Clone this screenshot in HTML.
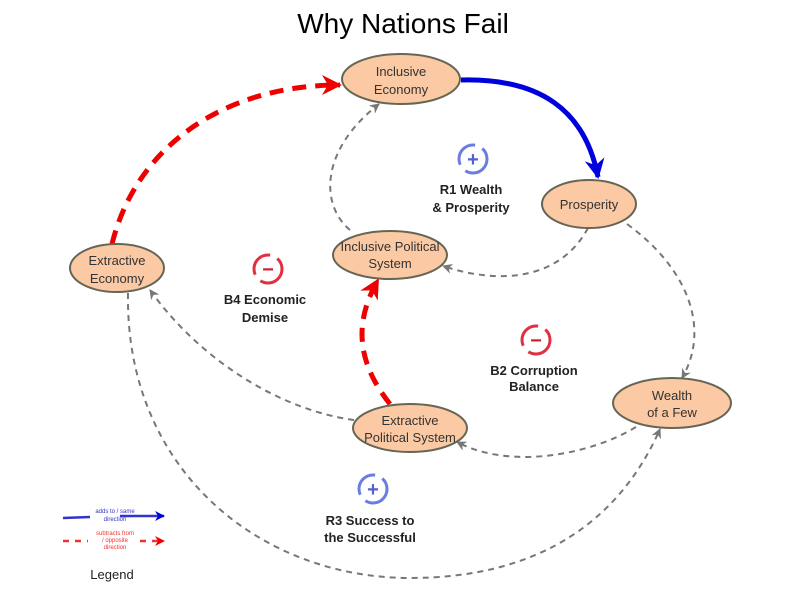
<!DOCTYPE html>
<html><head><meta charset="utf-8"><style>
html,body{margin:0;padding:0;background:#fff;width:800px;height:596px;overflow:hidden}
svg{display:block}
.n{font-family:"Liberation Sans",sans-serif;font-size:13px;fill:#333}
.l{font-family:"Liberation Sans",sans-serif;font-size:13px;font-weight:bold;fill:#222}
</style></head><body>
<svg width="800" height="596" viewBox="0 0 800 596" xmlns="http://www.w3.org/2000/svg">
<defs>
<marker id="g" viewBox="0 0 10 10" refX="9" refY="5" markerWidth="5" markerHeight="5" orient="auto"><path d="M0,0 L10,5 L0,10 L3,5z" fill="#777"/></marker>
<marker id="r" viewBox="0 0 10 10" refX="9" refY="5" markerWidth="4" markerHeight="4" orient="auto"><path d="M0,0 L10,5 L0,10 L3,5z" fill="#e00"/></marker>
<marker id="b" viewBox="0 0 10 10" refX="9" refY="5" markerWidth="4" markerHeight="4" orient="auto"><path d="M0,0 L10,5 L0,10 L3,5z" fill="#00d"/></marker>
</defs>
<text x="403" y="33" text-anchor="middle" font-family="Liberation Sans,sans-serif" font-size="28" fill="#000">Why Nations Fail</text>

<g fill="none" stroke="#777" stroke-width="2" stroke-dasharray="6,5">
<path d="M350,230 C320,205 320,150 379,104" marker-end="url(#g)"/>
<path d="M588,228 C560,280 500,285 443,266" marker-end="url(#g)"/>
<path d="M627,224 C690,270 710,330 682,378" marker-end="url(#g)"/>
<path d="M636,427 C590,455 510,470 457,442" marker-end="url(#g)"/>
<path d="M354,420 C280,410 200,360 150,290" marker-end="url(#g)"/>
<path d="M128,293 C125,470 260,578 410,578 C540,578 620,520 660,429" marker-end="url(#g)"/>
</g>
<path d="M112,244 C135,150 220,85 340,85" fill="none" stroke="#e00" stroke-width="5" stroke-dasharray="14,9" marker-end="url(#r)"/>
<path d="M390,404 C355,360 355,320 378,280" fill="none" stroke="#e00" stroke-width="5" stroke-dasharray="14,9" marker-end="url(#r)"/>
<path d="M461,80 C540,78 585,110 598,177" fill="none" stroke="#00d" stroke-width="5" marker-end="url(#b)"/>

<g fill="#fbc9a3" stroke="#665" stroke-width="2">
<ellipse cx="401" cy="79" rx="59" ry="25"/>
<ellipse cx="589" cy="204" rx="47" ry="24"/>
<ellipse cx="390" cy="255" rx="57" ry="24"/>
<ellipse cx="117" cy="268" rx="47" ry="24"/>
<ellipse cx="410" cy="428" rx="57" ry="24"/>
<ellipse cx="672" cy="403" rx="59" ry="25"/>
</g>
<g class="n" text-anchor="middle">
<text x="401" y="76">Inclusive</text><text x="401" y="94">Economy</text>
<text x="589" y="209">Prosperity</text>
<text x="390" y="251">Inclusive Political</text><text x="390" y="268">System</text>
<text x="117" y="265">Extractive</text><text x="117" y="283">Economy</text>
<text x="410" y="425">Extractive</text><text x="410" y="442">Political System</text>
<text x="672" y="400">Wealth</text><text x="672" y="417">of a Few</text>
</g>

<g fill="none" stroke-width="3">
<g stroke="#6a7de0"><circle cx="473" cy="159" r="14" stroke-dasharray="30,8"/><circle cx="373" cy="489" r="14" stroke-dasharray="30,8"/></g>
<g stroke="#e03040"><circle cx="268" cy="269" r="14" stroke-dasharray="30,8"/><circle cx="536" cy="340" r="14" stroke-dasharray="30,8"/></g>
</g>
<g font-family="Liberation Sans,sans-serif" font-size="20" font-weight="bold" text-anchor="middle">
<text x="473" y="166" fill="#5560d0">+</text><text x="373" y="496" fill="#5560d0">+</text>
<text x="268" y="276" fill="#d02030">−</text><text x="536" y="347" fill="#d02030">−</text>
</g>
<g class="l" text-anchor="middle">
<text x="471" y="194">R1 Wealth</text><text x="471" y="212">&amp; Prosperity</text>
<text x="265" y="304">B4 Economic</text><text x="265" y="322">Demise</text>
<text x="534" y="375">B2 Corruption</text><text x="534" y="391">Balance</text>
<text x="370" y="525">R3 Success to</text><text x="370" y="542">the Successful</text>
</g>

<path d="M63,518 L90,517 M120,516 L164,516" stroke="#33c" stroke-width="2.5" fill="none" marker-end="url(#b)"/>
<text x="115" y="513" font-family="Liberation Sans,sans-serif" font-size="6" fill="#33c" text-anchor="middle">adds to / same</text>
<text x="115" y="521" font-family="Liberation Sans,sans-serif" font-size="6" fill="#33c" text-anchor="middle">direction</text>
<path d="M63,541 L88,541 M140,541 L164,541" stroke="#e33" stroke-width="2.5" stroke-dasharray="6,6" fill="none" marker-end="url(#r)"/>
<text x="115" y="535" font-family="Liberation Sans,sans-serif" font-size="6" fill="#e33" text-anchor="middle">subtracts from</text>
<text x="115" y="542" font-family="Liberation Sans,sans-serif" font-size="6" fill="#e33" text-anchor="middle">/ opposite</text>
<text x="115" y="549" font-family="Liberation Sans,sans-serif" font-size="6" fill="#e33" text-anchor="middle">direction</text>
<text x="112" y="579" font-family="Liberation Sans,sans-serif" font-size="13" fill="#222" text-anchor="middle">Legend</text>
</svg>
</body></html>
